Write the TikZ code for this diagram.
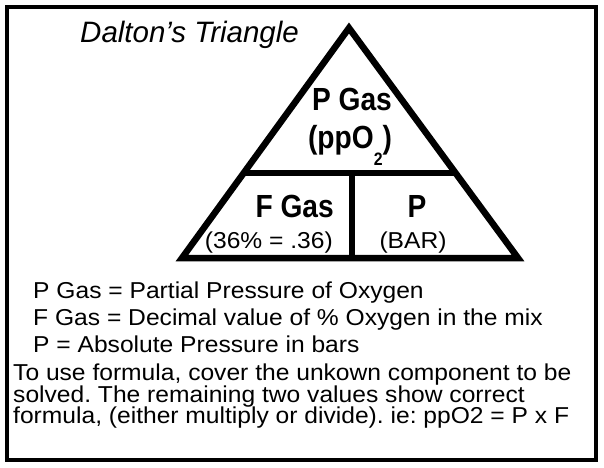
\documentclass[tikz,border=0pt]{standalone}
\usepackage{fontspec}
\setmainfont{Liberation Sans}
\newfontfamily\bodyfont[FakeStretch=1.07]{Liberation Sans}
\newfontfamily\trifont[FakeStretch=0.88]{Liberation Sans Bold}
\usetikzlibrary{positioning, calc}
\frenchspacing

\begin{document}
\begin{tikzpicture}[x=1pt, y=-1pt,
  frame/.style={draw, line width=4pt},
  edge/.style={line width=6.5pt},
  divider/.style={line width=5.5pt},
  trilabel/.style={inner sep=0pt, font=\trifont\fontsize{32}{32}\selectfont},
  trinote/.style={inner sep=0pt, font=\bodyfont\fontsize{23}{23}\selectfont},
  legend/.style={trinote, anchor=base west}
]
  \fill[white] (0,0) rectangle (604,467);
  \useasboundingbox (0,0) rectangle (604,467);

  % Frame
  \draw[frame] (7,7) rectangle (596,460);
  \node[inner sep=0pt, anchor=base west, font=\itshape\fontsize{29.5}{29.5}\selectfont] (title) at (80,42) {Dalton’s Triangle};

  % Triangle
  \coordinate (apex) at (349,28);
  \coordinate (bl) at (182,258);
  \coordinate (br) at (518,258);
  \coordinate (ml) at ($(apex)!145/230!(bl)$);
  \coordinate (mr) at ($(apex)!145/230!(br)$);
  \coordinate (vt) at (352,173);
  \coordinate (vb) at (352,258);
  \draw[edge] (apex) -- (bl) -- (br) -- cycle;
  \draw[divider] (ml) -- (mr);
  \draw[divider] (vt) -- (vb);

  \node[trilabel, anchor=base] (pgas) at (352,110) {P Gas};
  \node[trilabel, anchor=base] (ppo) at (350,148) {(ppO\lower17pt\hbox{\fontsize{18}{18}\selectfont 2})};
  \node[trilabel, anchor=base east] (fgas) at (334,217) {F Gas};
  \node[trinote, anchor=base east] (frac) at (333,248) {(36\% = .36)};
  \node[trilabel, anchor=base] (pres) at (417,217) {P};
  \node[trinote, anchor=base] (bar) at (413,248) {(BAR)};

  % Legend
  \node[legend] (key1) at (33,298) {P Gas = Partial Pressure of Oxygen};
  \node[legend] (key2) at (33,325) {F Gas = Decimal value of \% Oxygen in the mix};
  \node[legend] (key3) at (33,352) {P = Absolute Pressure in bars};

  % Note
  \node[legend] (note1) at (13,380) {To use formula, cover the unkown component to be};
  \node[legend] (note2) at (13,402) {solved. The remaining two values show correct};
  \node[legend] (note3) at (13,423) {formula, (either multiply or divide). ie: ppO2 = P x F};
\end{tikzpicture}
\end{document}
